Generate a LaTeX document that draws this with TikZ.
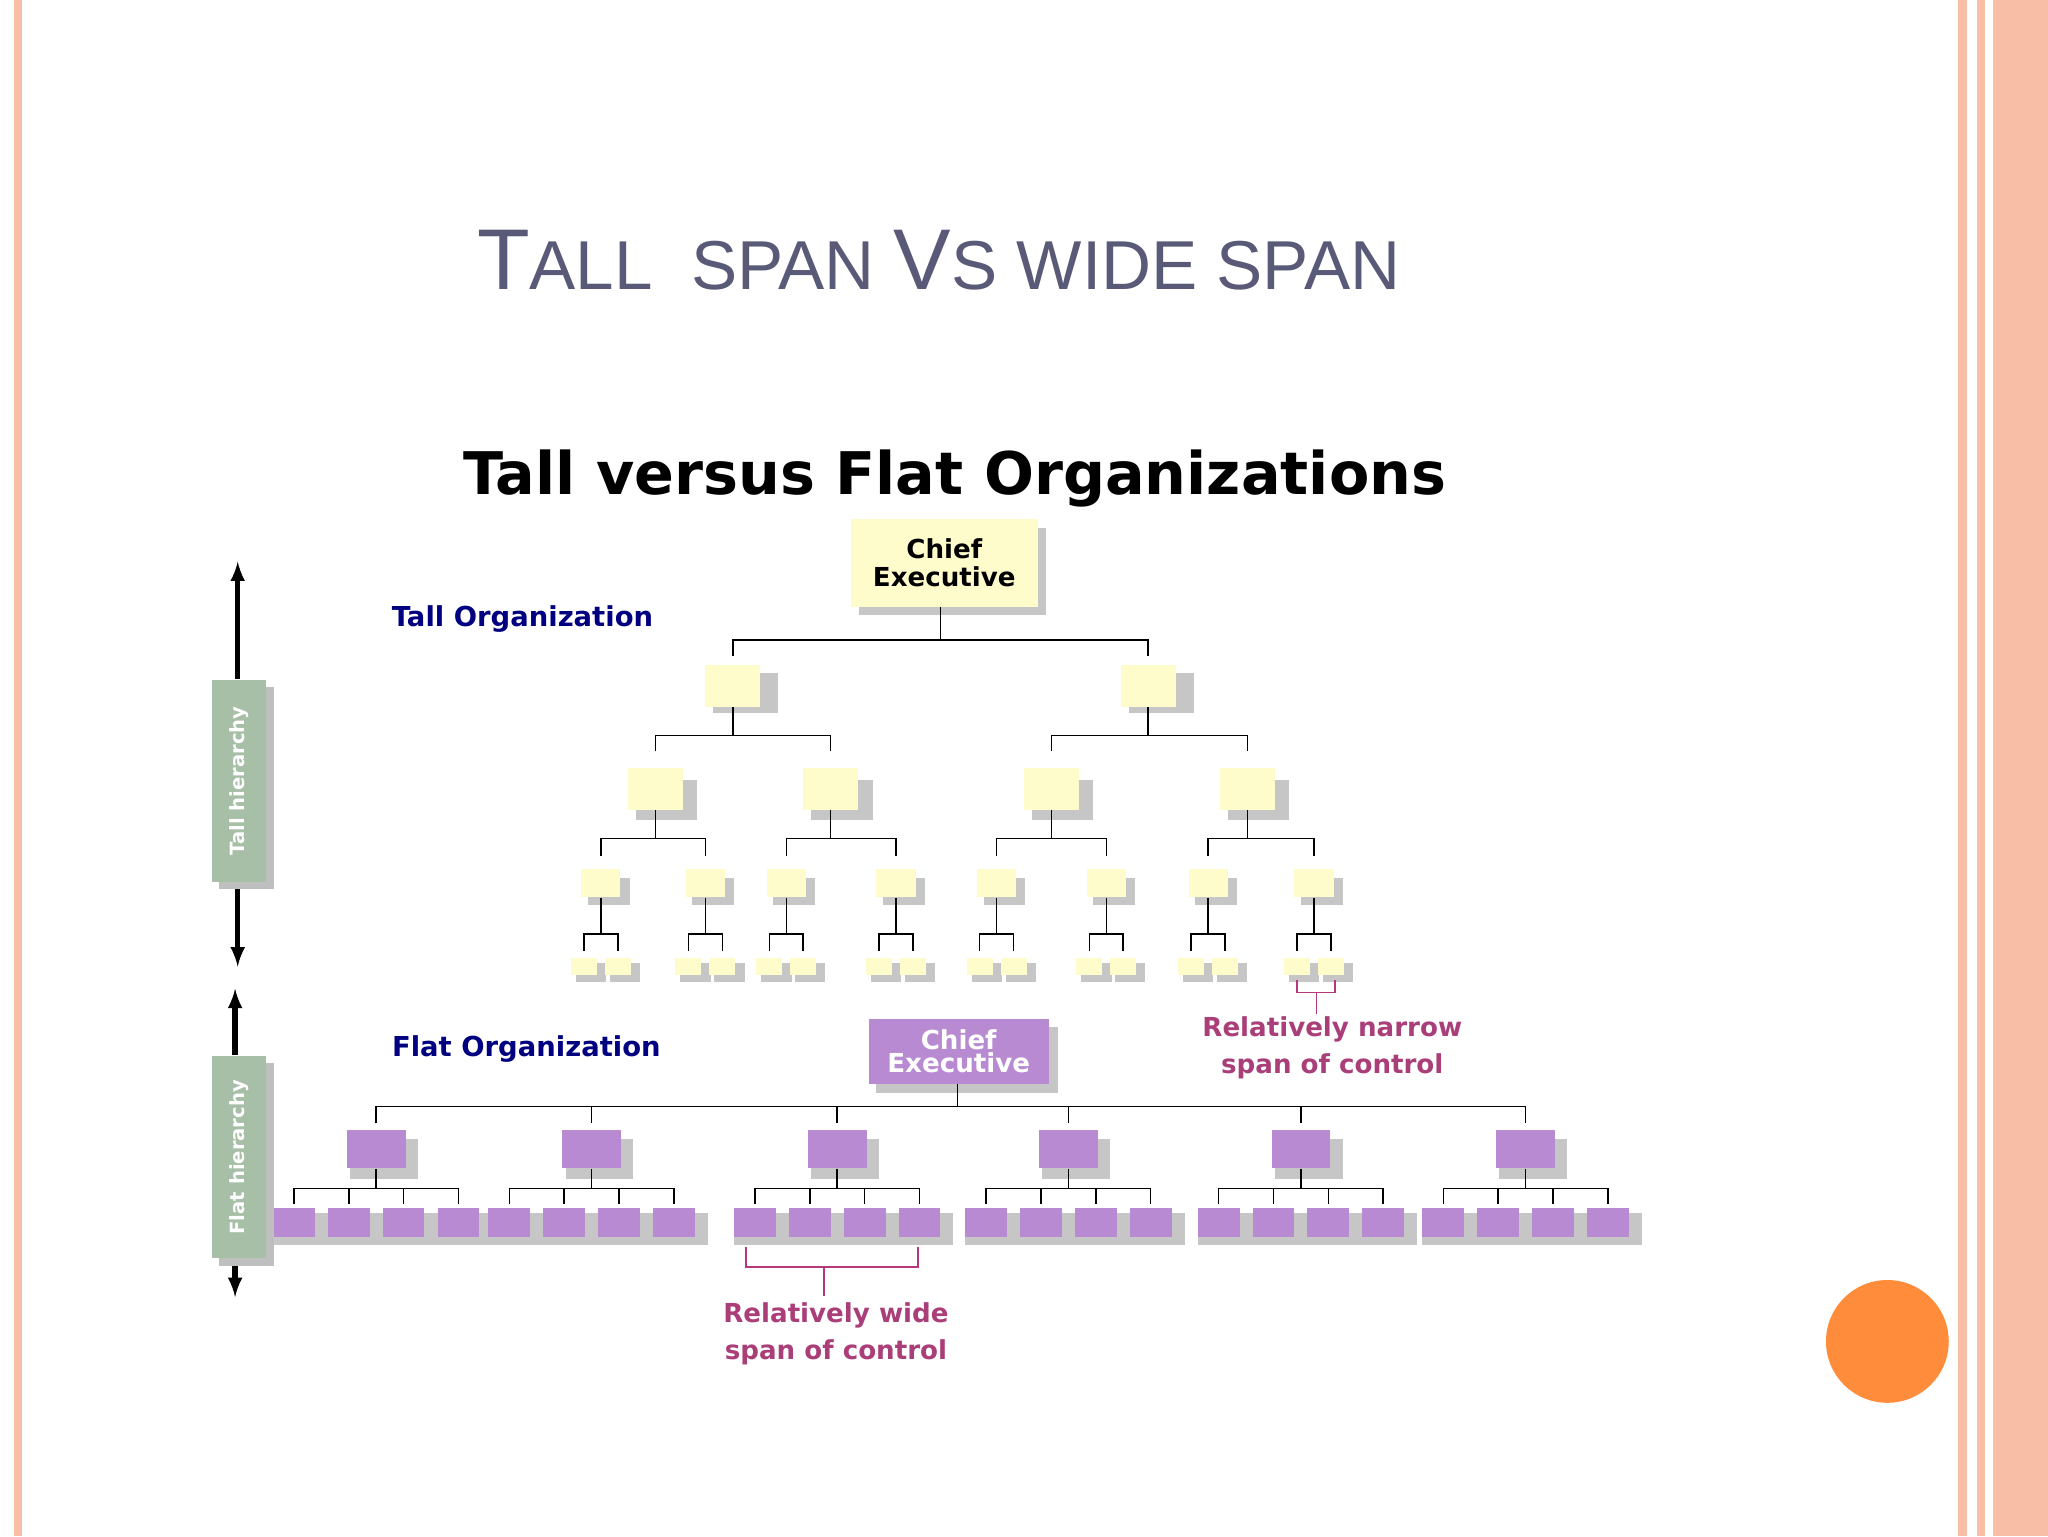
\documentclass[tikz,border=0pt]{standalone}
\usepackage{fontspec}
\setmainfont{Liberation Sans}
\newfontfamily\verd{DejaVu Sans}
\definecolor{circ}{HTML}{FF8C3A}
\definecolor{bord}{HTML}{F9BFA6}
\begin{document}
\begin{tikzpicture}[x=1pt,y=-1pt,
  yb/.style={fill=yellow!20!white},
  pb/.style={fill=violet!40!white!90!blue},
  sh/.style={fill=gray!45},
  ln/.style={draw=black,line width=1.2pt},
  pk/.style={draw=magenta!70!black,line width=1.2pt},
  lab/.style={font=\verd\fontsize{21}{24}\selectfont\bfseries,text=blue!50!black},
  spanlab/.style={font=\verd\fontsize{20}{28}\selectfont\bfseries,text=magenta!65!black,align=center},
  hier/.style={fill=green!15!gray!60,text=white,font=\verd\fontsize{15}{18}\selectfont\bfseries}]
\useasboundingbox (0,0) rectangle (1568,1176);
\fill[white] (0,0) rectangle (1568,1176);
% borders
\fill[bord] (11,0) rectangle (17,1176);
\fill[bord] (1499,0) rectangle (1506,1176);
\fill[bord] (1514,0) rectangle (1568,1176);
\fill[white] (1520,0) rectangle (1526,1176);
\fill[circ] (1445,1027) circle (47);
% title
\node[anchor=base west,text=black!60!blue!30!gray,inner sep=0] (title) at (365,222)
 {\fontsize{66}{66}\selectfont T\fontsize{53}{53}\selectfont ALL\ \ SPAN \fontsize{66}{66}\selectfont V\fontsize{53}{53}\selectfont S WIDE SPAN};
\node[font=\verd\fontsize{45}{45}\selectfont\bfseries] (sub) at (731,366) {Tall versus Flat Organizations};
% tall chief
\fill[sh] (658,404) rectangle (801,471);
\node[yb,minimum width=143,minimum height=67,font=\verd\fontsize{20}{21}\selectfont\bfseries,align=center,inner sep=0] (ce) at (723,431) {Chief\\Executive};
\node[lab] (tl) at (400,474) {Tall Organization};
\draw[ln] (720,465) -- (720,490);
\draw[ln] (561,502) |- (879,490) -- (879,502);
% tall levels
\foreach \x in {561,879}{
  \fill[sh] (\x-15,515) rectangle (\x+35,546);
  \node[yb,minimum width=42,minimum height=32,inner sep=0] (t1) at (\x,525) {};
  \draw[ln] (t1.south) -- (\x,563);}
\foreach \p/\a/\b in {561/502/636,879/805/955}{
  \draw[ln] (\a,575) |- (\b,563) -- (\b,575);}
\foreach \x/\a/\b in {502/460/540,636/602/686,805/763/847,955/925/1006}{
  \fill[sh] (\x-15,597) rectangle (\x+32,628);
  \node[yb,minimum width=42,minimum height=32,inner sep=0] (t2) at (\x,604) {};
  \draw[ln] (t2.south) -- (\x,642);
  \draw[ln] (\a,655) |- (\b,642) -- (\b,655);
  \foreach \c in {\a,\b}{
    \fill[sh] (\c-10,672) rectangle (\c+22,693);
    \node[yb,minimum width=30,minimum height=22,inner sep=0] (t3) at (\c,676) {};
    \draw[ln] (t3.south) -- (\c,715);
    \draw[ln] (\c-13,728) |- (\c+13,715) -- (\c+13,728);
    \foreach \d in {-13,13}{
      \fill[sh] (\c+\d-6,737) rectangle (\c+\d+17,752);
      \node[yb,minimum width=20,minimum height=13,inner sep=0] (t4) at (\c+\d,740) {};}}}
% narrow bracket
\draw[pk] (993,750) -- (993,760) -- (1022,760) -- (1022,750);
\draw[pk] (1008,760) -- (1008,776);
\node[spanlab] (nar) at (1020,802) {Relatively narrow\\span of control};
% flat
\node[lab] (fl) at (403,803) {Flat Organization};
\fill[sh] (671,786) rectangle (810,837);
\node[pb,minimum width=138,minimum height=50,text=white,font=\verd\fontsize{20}{18}\selectfont\bfseries,align=center,inner sep=0] (fce) at (734,805) {Chief\\Executive};
\draw[ln] (733,830) -- (733,847);
\draw[ln] (288,860) |- (1168,847) -- (1168,860);
\foreach \x in {288,453,641,818,996,1168}{
  \draw[ln] (\x,847) -- (\x,860);
  \fill[sh] (\x-20,872) rectangle (\x+32,903);
  \node[pb,minimum width=45,minimum height=29,inner sep=0] (f1) at (\x,880) {};
  \draw[ln] (f1.south) -- (\x,910);
  \draw[ln] (\x-63,922) |- (\x+63,910) -- (\x+63,922);
  \foreach \d in {-63,-21,21,63}{
    \draw[ln] (\x+\d,910) -- (\x+\d,922);
    \fill[sh] (\x+\d-16,929) rectangle (\x+\d+26,953);
    \node[pb,minimum width=32,minimum height=22,inner sep=0] (f2) at (\x+\d,936) {};}}
% wide bracket
\draw[pk] (571,955) -- (571,970) -- (703,970) -- (703,955);
\draw[pk] (631,970) -- (631,992);
\node[spanlab] (wid) at (640,1021) {Relatively wide\\span of control};
% hierarchy arrows
\draw[line width=4pt,-latex] (182,520) -- (182,430);
\draw[line width=4pt,-latex] (182,675) -- (182,740);
\fill[gray!50] (168,526) rectangle (210,681);
\node[hier,minimum width=155,minimum height=42,rotate=90,inner sep=0] (th) at (183,598) {Tall hierarchy};
\draw[line width=4pt,-latex] (180,808) -- (180,757);
\draw[line width=4pt,-latex] (180,965) -- (180,993);
\fill[gray!50] (168,814) rectangle (210,969);
\node[hier,minimum width=155,minimum height=42,rotate=90,inner sep=0] (fh) at (183,886) {Flat hierarchy};
\end{tikzpicture}
\end{document}
